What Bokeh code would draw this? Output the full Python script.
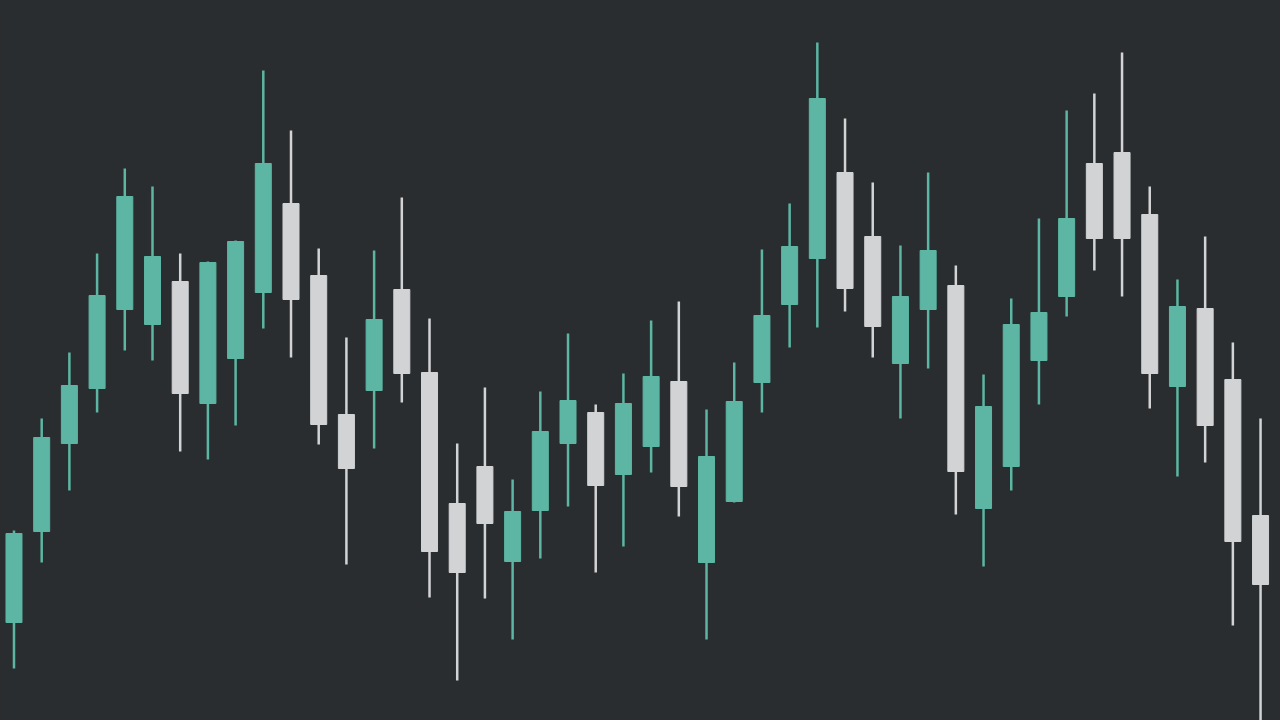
from bokeh.plotting import figure
from bokeh.models import ColumnDataSource, Range1d
from bokeh.embed import file_html
from bokeh.resources import INLINE

# OHLC values (arbitrary price units)
opens  = [98, 189, 277, 332, 411, 396, 439, 317, 362, 428, 517, 445, 306, 330, 431, 348,
          217, 254, 159, 210, 277, 308, 246, 274, 339, 158, 219, 338, 416, 462, 548, 484,
          357, 411, 435, 212, 254, 360, 424, 557, 568, 506, 334, 412, 341, 205]
highs  = [190, 302, 368, 467, 552, 534, 467, 459, 480, 650, 590, 472, 383, 470, 523, 402,
          277, 333, 241, 329, 387, 316, 347, 400, 419, 311, 358, 471, 517, 678, 602, 538,
          475, 548, 455, 346, 422, 502, 610, 627, 668, 534, 441, 484, 378, 302]
lows   = [52, 158, 230, 308, 370, 360, 269, 261, 295, 392, 363, 276, 156, 272, 318, 123,
          40, 122, 81, 162, 214, 148, 174, 248, 204, 81, 218, 308, 373, 393, 409, 363,
          302, 352, 206, 154, 230, 316, 404, 450, 424, 312, 244, 258, 95, -10]
closes = [187, 283, 335, 425, 524, 464, 327, 458, 479, 557, 421, 296, 252, 401, 347, 169,
          148, 197, 209, 289, 320, 235, 317, 344, 234, 264, 319, 405, 474, 622, 432, 394,
          424, 470, 249, 314, 396, 408, 502, 482, 482, 347, 414, 295, 179, 136]

UP = "#5cb6a3"
DOWN = "#d2d3d5"
BG = "#2a2d2f"

idx = list(range(len(opens)))
colors = [UP if c >= o else DOWN for o, c in zip(opens, closes)]
tops = [max(o, c) for o, c in zip(opens, closes)]
bots = [min(o, c) for o, c in zip(opens, closes)]

src = ColumnDataSource(dict(x=idx, high=highs, low=lows, top=tops, bottom=bots, color=colors))

p = figure(width=1280, height=720, output_backend="svg", toolbar_location=None,
           x_range=Range1d(-0.487, 45.72), y_range=Range1d(0, 720),
           min_border=0, min_border_left=0, min_border_right=0,
           min_border_top=0, min_border_bottom=0)
p.background_fill_color = BG
p.border_fill_color = BG
p.outline_line_color = None
p.axis.visible = False
p.grid.visible = False

p.segment(x0="x", y0="low", x1="x", y1="high", color="color", line_width=2.5, source=src)
p.vbar(x="x", top="top", bottom="bottom", width=0.578, fill_color="color",
       line_color="color", line_width=1, source=src)

html = file_html(p, INLINE)
html = html.replace("</head>",
                    "<style>html,body{margin:0;padding:0;background:%s;overflow:hidden}</style></head>" % BG, 1)
open("out.html", "w").write(html)
